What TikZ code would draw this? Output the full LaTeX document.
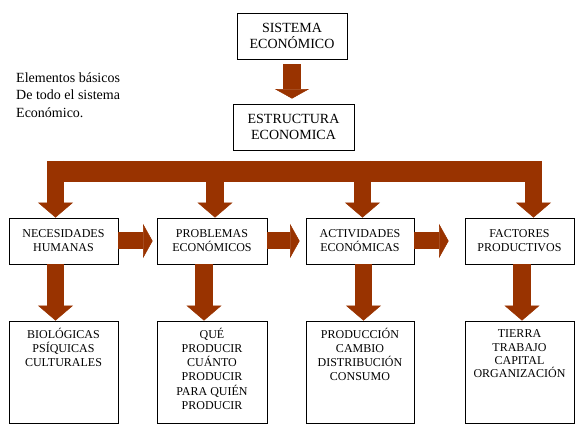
\documentclass[tikz,border=0pt]{standalone}
\usepackage{fontspec}
\setmainfont{Liberation Serif}
\usepackage{tikz}
\usetikzlibrary{arrows.meta,positioning}
\definecolor{rust}{HTML}{993300}
\tikzstyle{box}=[fill=white, draw=black, line width=0.8pt, shape=rectangle, inner sep=0pt, align=center, font=\fontsize{12}{14}\selectfont]
\tikzstyle{big box}=[box, font=\fontsize{14}{16}\selectfont]
\tikzstyle{note}=[inner sep=0pt, align=left, anchor=north west, font=\fontsize{14}{17.5}\selectfont]
\tikzstyle{list}=[inner sep=0pt, align=center, font=\fontsize{12}{14.3}\selectfont]
\tikzstyle{rust edge}=[-{Triangle[width=35pt, length=15pt, line width=0.5pt]}, draw=rust, line width=17.5pt]
\tikzstyle{rust link}=[-{Triangle[width=34pt, length=9.5pt, line width=0.5pt]}, draw=rust, line width=17pt]
\pgfdeclarelayer{nodelayer}
\pgfdeclarelayer{edgelayer}
\pgfsetlayers{main,nodelayer,edgelayer}

\begin{document}
\begin{tikzpicture}[x=1pt, y=-1pt]
	\useasboundingbox (0, 0) rectangle (582, 435);
	\begin{pgfonlayer}{nodelayer}
		\node [style=big box, minimum width=110pt, minimum height=46pt] (0) at (292, 36) {SISTEMA\\ECONÓMICO};
		\node [style=big box, minimum width=121pt, minimum height=46pt] (1) at (293.5, 127) {ESTRUCTURA\\ECONOMICA};
		\node [style=note] (2) at (16, 72.5) {Elementos básicos\\De todo el sistema\\Económico.};
		\node [style=box, minimum width=109pt, minimum height=46pt] (3) at (63.5, 241) {NECESIDADES\\HUMANAS};
		\node [style=box, minimum width=110pt, minimum height=46pt] (4) at (212, 241) {PROBLEMAS\\ECONÓMICOS};
		\node [style=box, minimum width=108pt, minimum height=46pt] (5) at (360, 241) {ACTIVIDADES\\ECONÓMICAS};
		\node [style=box, minimum width=109pt, minimum height=46pt] (6) at (519.5, 241) {FACTORES\\PRODUCTIVOS};
		\node [style=box, minimum width=109pt, minimum height=102pt] (7) at (63.5, 372) {};
		\node [style=box, minimum width=110pt, minimum height=102pt] (8) at (212, 372) {};
		\node [style=box, minimum width=108pt, minimum height=102pt] (9) at (360, 372) {};
		\node [style=box, minimum width=109pt, minimum height=102pt] (10) at (519.5, 372) {};
		\node [style=list, below=7pt of 7.north] (11) {BIOLÓGICAS\\PSÍQUICAS\\CULTURALES};
		\node [style=list, below=7pt of 8.north] (12) {QUÉ\\PRODUCIR\\CUÁNTO\\PRODUCIR\\PARA QUIÉN\\PRODUCIR};
		\node [style=list, below=7pt of 9.north] (13) {PRODUCCIÓN\\CAMBIO\\DISTRIBUCIÓN\\CONSUMO};
		\node [style=list, font=\fontsize{12}{13.3}\selectfont, below=9pt of 10.north] (14) {TIERRA\\TRABAJO\\CAPITAL\\ORGANIZACIÓN};
		\coordinate (15) at (55.5, 161);
		\coordinate (16) at (215, 161);
		\coordinate (17) at (362.5, 161);
		\coordinate (18) at (533.5, 161);
	\end{pgfonlayer}
	\begin{pgfonlayer}{edgelayer}
		\draw [style=rust link, line width=18pt, shorten <=5pt, shorten >=5pt] (0.south) to (0.south |- 1.north);
		\fill [rust] ([xshift=-8.5pt]15) rectangle ([xshift=8.5pt, yshift=-21pt]18);
		\draw [style=rust edge] (15) to (15 |- 3.north);
		\draw [style=rust edge] (16) to (16 |- 4.north);
		\draw [style=rust edge] (17) to (17 |- 5.north);
		\draw [style=rust edge] (18) to (18 |- 6.north);
		\draw [style=rust link, shorten >=4pt] (3) to (4);
		\draw [style=rust link, shorten >=6pt] (4) to (5);
		\draw [style=rust link, shorten >=16pt] (5) to (6);
		\draw [style=rust edge] ([xshift=-8pt]3.south) to ([xshift=-8pt]7.north);
		\draw [style=rust edge] ([xshift=-8pt]4.south) to ([xshift=-8pt]8.north);
		\draw [style=rust edge] ([xshift=3.5pt]5.south) to ([xshift=3.5pt]9.north);
		\draw [style=rust edge] ([xshift=2.5pt]6.south) to ([xshift=2.5pt]10.north);
	\end{pgfonlayer}
\end{tikzpicture}
\end{document}
